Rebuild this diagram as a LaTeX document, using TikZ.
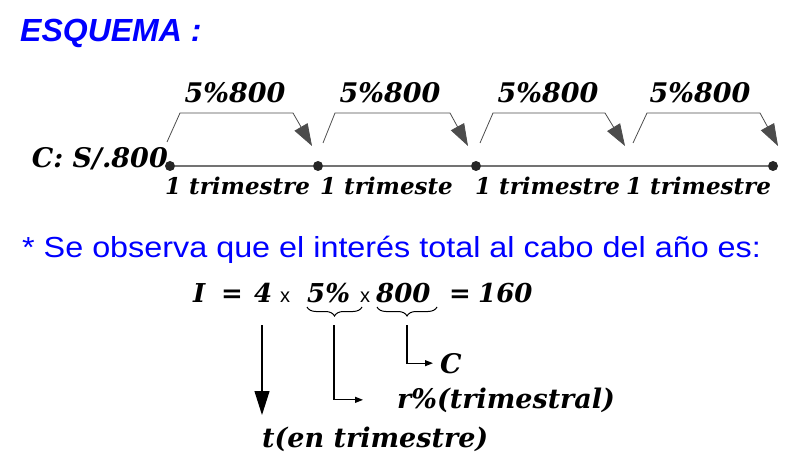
\documentclass[tikz,border=0pt]{standalone}
\usepackage{fontspec}
\setmainfont{DejaVu Serif}
\newfontfamily\arialfont{Liberation Sans}
\newfontfamily\arialwide[FakeStretch=1.115]{Liberation Sans}
\usetikzlibrary{arrows.meta,decorations.pathreplacing}

\begin{document}
\begin{tikzpicture}[
    x=1pt,
    y=-1pt,
    titulo/.style={
        anchor=base west,
        inner sep=0pt,
        text=blue,
        font=\arialfont\bfseries\itshape\fontsize{32}{32}\selectfont
    },
    nota/.style={
        anchor=base west,
        inner sep=0pt,
        text=blue,
        font=\arialwide\fontsize{29}{29}\selectfont
    },
    etiqueta/.style={
        anchor=base west,
        inner sep=0pt,
        font=\bfseries\itshape\fontsize{23}{23}\selectfont
    },
    monto/.style={
        anchor=base,
        inner sep=0pt,
        font=\bfseries\itshape\fontsize{27}{27}\selectfont
    },
    formula/.style={
        anchor=base west,
        inner sep=0pt,
        font=\bfseries\itshape\fontsize{26}{26}\selectfont
    },
    leyenda/.style={
        anchor=base west,
        inner sep=0pt,
        font=\bfseries\itshape\fontsize{27}{27}\selectfont
    },
    por/.style={
        anchor=base west,
        inner sep=0pt,
        font=\arialfont\fontsize{20}{20}\selectfont
    },
    punto/.style={
        circle,
        fill=black!85,
        inner sep=0pt,
        minimum size=10pt
    },
    tramo/.style={
        draw=black!70,
        line width=0.8pt,
        -{Triangle[length=22pt,width=15pt]}
    },
    llave/.style={
        decorate,
        decoration={brace, mirror, amplitude=9pt},
        line width=1pt
    },
    guia/.style={
        line width=1.1pt,
        -{Triangle[length=8pt,width=6pt]}
    }
]
    \useasboundingbox (0,0) rectangle (800,465);

    % Titulo
    \node[titulo] (esquema) at (20,42) {ESQUEMA :};

    % Linea de tiempo
    \node[punto] (p0) at (170,166) {};
    \node[punto] (p1) at (318,166) {};
    \node[punto] (p2) at (476,166) {};
    \node[punto] (p3) at (773,166) {};
    \draw[black!55, line width=1.6pt] (p0) -- (p1) -- (p2) -- (p3);

    \node[monto, anchor=base east] (capital) at (168,168) {C: S/.800};

    \node[etiqueta] (trim1) at (165,195) {1 trimestre};
    \node[etiqueta] (trim2) at (320,195) {1 trimeste};
    \node[etiqueta] (trim3) at (475,195) {1 trimestre};
    \node[etiqueta] (trim4) at (626,195) {1 trimestre};

    % Intereses por trimestre
    \coordinate (a1) at (167,142);
    \coordinate (b1) at (312,146);
    \coordinate (a2) at (323,143);
    \coordinate (b2) at (468,146);
    \coordinate (a3) at (480,143);
    \coordinate (b3) at (625,146);
    \coordinate (a4) at (633,143);
    \coordinate (b4) at (778,146);
    \draw[tramo] (a1) -- (180,113) -- (293,113) -- (b1);
    \draw[tramo] (a2) -- (335,113) -- (450,113) -- (b2);
    \draw[tramo] (a3) -- (493,113) -- (605,113) -- (b3);
    \draw[tramo] (a4) -- (647,113) -- (760,113) -- (b4);

    \node[monto] (int1) at (235,103) {5\%800};
    \node[monto] (int2) at (390,103) {5\%800};
    \node[monto] (int3) at (548,103) {5\%800};
    \node[monto] (int4) at (700,103) {5\%800};

    % Observacion
    \node[nota] (obs) at (22,257) {* Se observa que el interés total al cabo del año es:};

    % Formula
    \node[formula] (nI) at (193,302) {I};
    \node[formula] (eq1) at (221,302) {=};
    \node[formula] (n4) at (254,302) {4};
    \node[por] (x1) at (280,302) {x};
    \node[formula] (n5) at (307,302) {5\%};
    \node[por] (x2) at (360,302) {x};
    \node[formula] (n800) at (376,302) {800};
    \node[formula] (eq2) at (449,302) {=};
    \node[formula] (n160) at (478,302) {160};

    \draw[llave] (307,307) -- (362,307);
    \draw[llave] (377,307) -- (437,307);

    \coordinate (t4) at (262,325);
    \coordinate (t5) at (334,325);
    \coordinate (t800) at (407,325);
    \coordinate (f4) at (262,415);

    % Significado de cada factor
    \node[leyenda] (capC) at (440,373) {C};
    \node[leyenda] (tasa) at (397,408) {r\%(trimestral)};
    \node[leyenda] (tiempo) at (262,447) {t(en trimestre)};

    \draw[guia, shorten >=7pt] (t800) |- (capC.west);
    \draw[guia, shorten >=34pt] (t5) |- (tasa.west);
    \draw[line width=1.1pt, -{Triangle[length=24pt,width=15pt]}] (t4) -- (f4);

\end{tikzpicture}
\end{document}
